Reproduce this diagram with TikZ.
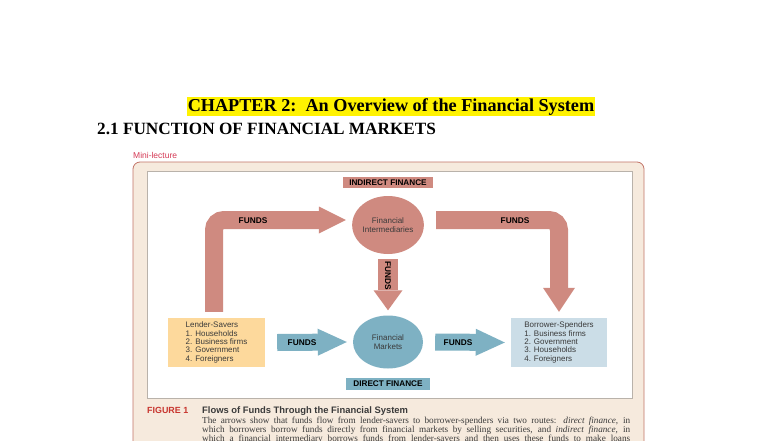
\documentclass[tikz,border=0pt]{standalone}
\usepackage{fontspec}
\setmainfont{Liberation Serif}
\setsansfont{Liberation Sans}
\usetikzlibrary{arrows.meta,shapes.geometric,calc}
\definecolor{pinkarrow}{HTML}{CF8A80}
\definecolor{bluearrow}{HTML}{7EB1C3}
\definecolor{lenderfill}{HTML}{FDD99C}
\definecolor{borrowfill}{HTML}{CBDDE7}
\definecolor{creamfill}{HTML}{F6EADD}
\definecolor{framered}{HTML}{C27468}
\definecolor{panelgray}{HTML}{B9B2AA}
\definecolor{figred}{HTML}{C8352E}
\definecolor{minired}{HTML}{D53A55}
\definecolor{textgray}{HTML}{3A3A3A}
\begin{document}
\begin{tikzpicture}[x=1pt,y=-1pt,
  flowlabel/.style={font=\sffamily\bfseries\fontsize{8.3}{9}\selectfont, text=black, inner sep=0pt},
  tagbox/.style={font=\sffamily\bfseries\fontsize{8.2}{9}\selectfont, text=black, inner sep=0pt, minimum height=11.5pt},
  bubble/.style={ellipse, inner sep=0pt, minimum width=70pt, font=\sffamily\fontsize{8}{8.8}\selectfont, text=textgray, align=center},
  groupbox/.style={rectangle, inner sep=0pt, minimum width=97pt, minimum height=49pt, font=\sffamily\fontsize{8}{8.3}\selectfont, text=textgray, align=left},
  pinkflow/.style={draw=pinkarrow, line width=18pt, rounded corners=10pt},
  blueflow/.style={draw=bluearrow, line width=17pt, -{Triangle[width=27pt,length=29pt,line width=0pt]}},
  capline/.style={anchor=base west, inner sep=0pt, font=\fontsize{9.2}{9.5}\selectfont, text=textgray},
]
\useasboundingbox (0,0) rectangle (784,441);
\clip (0,0) rectangle (784,441);
\fill[white] (0,0) rectangle (784,441);

% headings
\node[fill=yellow, inner xsep=1pt, inner ysep=0pt, text height=15pt, text depth=4pt, anchor=base,
      font=\bfseries\fontsize{18.2}{20}\selectfont] (title) at (391,112) {CHAPTER 2:~~An Overview of the Financial System};
\node[anchor=base west, inner sep=0pt, font=\bfseries\fontsize{17.2}{19}\selectfont] (subtitle) at (97,135) {2.1 FUNCTION OF FINANCIAL MARKETS};
\node[anchor=base west, inner sep=0pt, font=\sffamily\fontsize{8.5}{9}\selectfont, text=minired] (mini) at (133,158) {Mini-lecture};

% frame and panel
\draw[framered, fill=creamfill, rounded corners=7pt, line width=0.8pt] (133,162) rectangle (644,480);
\draw[panelgray, fill=white, line width=0.8pt] (147,171) rectangle (632,398);

% nodes
\node[bubble, fill=pinkarrow, minimum height=58pt] (fi) at (388,225) {Financial\\Intermediaries};
\node[bubble, fill=bluearrow, minimum height=53pt] (fm) at (388,342) {Financial\\Markets};
\node[groupbox, fill=lenderfill] (lender) at (216.5,342.5) {Lender-Savers\\1. Households\\2. Business firms\\3. Government\\4. Foreigners};
\node[groupbox, fill=borrowfill, minimum width=96pt] (borrower) at (559,342.5) {Borrower-Spenders\\1. Business firms\\2. Government\\3. Households\\4. Foreigners};
\node[tagbox, fill=pinkarrow, minimum width=90pt] (indirect) at (388,182.5) {INDIRECT FINANCE};
\node[tagbox, fill=bluearrow, minimum width=84pt] (direct) at (388,384) {DIRECT FINANCE};

% flows
\draw[pinkflow, -{Triangle[width=27pt,length=27pt,line width=0pt]}] ($(lender.north)+(-2.5,-6)$) |- ($(fi.west)+(-6,-5)$);
\draw[pinkflow, -{Triangle[width=32pt,length=24pt,line width=0pt]}] ($(fi.east)+(12,-5)$) -| ($(borrower.north)+(0,-6)$);
\draw[pinkflow, line width=20pt, -{Triangle[width=29pt,length=20pt,line width=0pt]}] ($(fi.south)+(0,5)$) -- ($(fm.north)+(0,-5)$);
\draw[blueflow] ($(lender.east)+(12,0)$) -- ($(fm.west)+(-6,0)$);
\draw[blueflow] ($(fm.east)+(12,0)$) -- ($(borrower.west)+(-6,0)$);

% flow labels
\node[flowlabel] (funds1) at (253,221) {FUNDS};
\node[flowlabel] (funds2) at (515,221) {FUNDS};
\node[flowlabel, rotate=-90] (funds3) at (388,276) {FUNDS};
\node[flowlabel] (funds4) at (302,343) {FUNDS};
\node[flowlabel] (funds5) at (458,343) {FUNDS};

% caption
\node[anchor=base west, inner sep=0pt, font=\sffamily\bfseries\fontsize{8.9}{10}\selectfont, text=figred] (fig) at (147,413) {FIGURE 1};
\node[anchor=base west, inner sep=0pt, font=\sffamily\bfseries\fontsize{9.4}{10}\selectfont, text=textgray] (figtitle) at (202,413) {Flows of Funds Through the Financial System};
\node[capline] (cap1) at (202,423) {\hbox to 428pt{The arrows show that funds flow from lender-savers to borrower-spenders via two routes: \textit{direct finance}, in}};
\node[capline] (cap2) at (202,432) {\hbox to 428pt{which borrowers borrow funds directly from financial markets by selling securities, and \textit{indirect finance}, in}};
\node[capline] (cap3) at (202,441) {\hbox to 428pt{which a financial intermediary borrows funds from lender-savers and then uses these funds to make loans}};
\end{tikzpicture}
\end{document}
